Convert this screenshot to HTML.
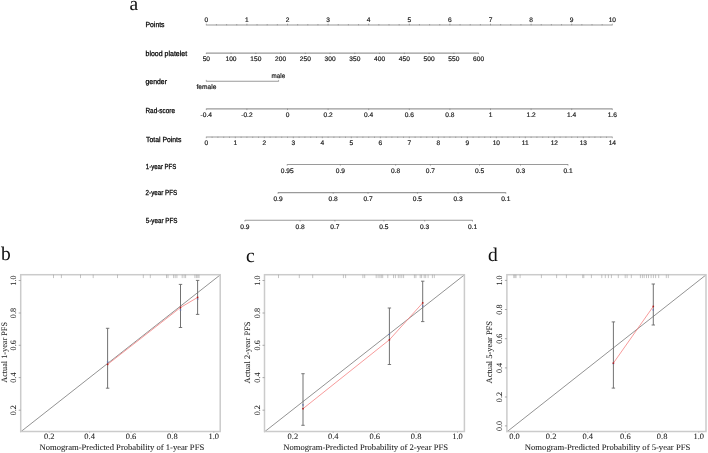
<!DOCTYPE html>
<html><head><meta charset="utf-8"><title>Nomogram and calibration curves</title>
<style>
html,body{margin:0;padding:0;background:#fff;width:708px;height:453px;overflow:hidden}
svg{display:block}
text{font-family:'Liberation Sans', Arial, sans-serif;text-rendering:geometricPrecision}
text.s{font-family:'Liberation Serif', 'Times New Roman', serif}
text.t{stroke:#1a1a1a;stroke-width:0.2px}
text.s{stroke:#222;stroke-width:0.06px}
</style></head>
<body>
<svg width="708" height="453" viewBox="0 0 708 453">
<g>
<rect width="708" height="453" fill="#fff"/>
<text x="129.6" y="10" font-size="19.5" text-anchor="start" fill="#111" class="s">a</text>
<text x="145.5" y="26.7" font-size="7.3" text-anchor="start" fill="#000" textLength="19" lengthAdjust="spacingAndGlyphs" stroke="#000" stroke-width="0.25">Points</text>
<text x="145.5" y="56" font-size="7.3" text-anchor="start" fill="#000" textLength="41.6" lengthAdjust="spacingAndGlyphs" stroke="#000" stroke-width="0.25">blood platelet</text>
<text x="145.5" y="84.3" font-size="7.3" text-anchor="start" fill="#000" textLength="21.5" lengthAdjust="spacingAndGlyphs" stroke="#000" stroke-width="0.25">gender</text>
<text x="145.5" y="113.4" font-size="7.3" text-anchor="start" fill="#000" textLength="29.5" lengthAdjust="spacingAndGlyphs" stroke="#000" stroke-width="0.25">Rad-score</text>
<text x="146.1" y="141.6" font-size="7.3" text-anchor="start" fill="#000" textLength="35.3" lengthAdjust="spacingAndGlyphs" stroke="#000" stroke-width="0.25">Total Points</text>
<text x="145.8" y="168.8" font-size="7.3" text-anchor="start" fill="#000" textLength="30.5" lengthAdjust="spacingAndGlyphs" stroke="#000" stroke-width="0.25">1-year PFS</text>
<text x="145.6" y="194.8" font-size="7.3" text-anchor="start" fill="#000" textLength="31.6" lengthAdjust="spacingAndGlyphs" stroke="#000" stroke-width="0.25">2-year PFS</text>
<text x="145.8" y="222.7" font-size="7.3" text-anchor="start" fill="#000" textLength="31.6" lengthAdjust="spacingAndGlyphs" stroke="#000" stroke-width="0.25">5-year PFS</text>
<line x1="206.3" y1="25" x2="612.3" y2="25" stroke="#9a9a9a" stroke-width="1.1"/>
<line x1="206.3" y1="23.7" x2="206.3" y2="25.3" stroke="#777" stroke-width="0.6"/>
<line x1="216.45" y1="24.1" x2="216.45" y2="25.3" stroke="#777" stroke-width="0.6"/>
<line x1="226.6" y1="24.1" x2="226.6" y2="25.3" stroke="#777" stroke-width="0.6"/>
<line x1="236.75" y1="24.1" x2="236.75" y2="25.3" stroke="#777" stroke-width="0.6"/>
<line x1="246.9" y1="23.7" x2="246.9" y2="25.3" stroke="#777" stroke-width="0.6"/>
<line x1="257.05" y1="24.1" x2="257.05" y2="25.3" stroke="#777" stroke-width="0.6"/>
<line x1="267.2" y1="24.1" x2="267.2" y2="25.3" stroke="#777" stroke-width="0.6"/>
<line x1="277.35" y1="24.1" x2="277.35" y2="25.3" stroke="#777" stroke-width="0.6"/>
<line x1="287.5" y1="23.7" x2="287.5" y2="25.3" stroke="#777" stroke-width="0.6"/>
<line x1="297.65" y1="24.1" x2="297.65" y2="25.3" stroke="#777" stroke-width="0.6"/>
<line x1="307.8" y1="24.1" x2="307.8" y2="25.3" stroke="#777" stroke-width="0.6"/>
<line x1="317.95" y1="24.1" x2="317.95" y2="25.3" stroke="#777" stroke-width="0.6"/>
<line x1="328.1" y1="23.7" x2="328.1" y2="25.3" stroke="#777" stroke-width="0.6"/>
<line x1="338.25" y1="24.1" x2="338.25" y2="25.3" stroke="#777" stroke-width="0.6"/>
<line x1="348.4" y1="24.1" x2="348.4" y2="25.3" stroke="#777" stroke-width="0.6"/>
<line x1="358.55" y1="24.1" x2="358.55" y2="25.3" stroke="#777" stroke-width="0.6"/>
<line x1="368.7" y1="23.7" x2="368.7" y2="25.3" stroke="#777" stroke-width="0.6"/>
<line x1="378.85" y1="24.1" x2="378.85" y2="25.3" stroke="#777" stroke-width="0.6"/>
<line x1="389" y1="24.1" x2="389" y2="25.3" stroke="#777" stroke-width="0.6"/>
<line x1="399.15" y1="24.1" x2="399.15" y2="25.3" stroke="#777" stroke-width="0.6"/>
<line x1="409.3" y1="23.7" x2="409.3" y2="25.3" stroke="#777" stroke-width="0.6"/>
<line x1="419.45" y1="24.1" x2="419.45" y2="25.3" stroke="#777" stroke-width="0.6"/>
<line x1="429.6" y1="24.1" x2="429.6" y2="25.3" stroke="#777" stroke-width="0.6"/>
<line x1="439.75" y1="24.1" x2="439.75" y2="25.3" stroke="#777" stroke-width="0.6"/>
<line x1="449.9" y1="23.7" x2="449.9" y2="25.3" stroke="#777" stroke-width="0.6"/>
<line x1="460.05" y1="24.1" x2="460.05" y2="25.3" stroke="#777" stroke-width="0.6"/>
<line x1="470.2" y1="24.1" x2="470.2" y2="25.3" stroke="#777" stroke-width="0.6"/>
<line x1="480.35" y1="24.1" x2="480.35" y2="25.3" stroke="#777" stroke-width="0.6"/>
<line x1="490.5" y1="23.7" x2="490.5" y2="25.3" stroke="#777" stroke-width="0.6"/>
<line x1="500.65" y1="24.1" x2="500.65" y2="25.3" stroke="#777" stroke-width="0.6"/>
<line x1="510.8" y1="24.1" x2="510.8" y2="25.3" stroke="#777" stroke-width="0.6"/>
<line x1="520.95" y1="24.1" x2="520.95" y2="25.3" stroke="#777" stroke-width="0.6"/>
<line x1="531.1" y1="23.7" x2="531.1" y2="25.3" stroke="#777" stroke-width="0.6"/>
<line x1="541.25" y1="24.1" x2="541.25" y2="25.3" stroke="#777" stroke-width="0.6"/>
<line x1="551.4" y1="24.1" x2="551.4" y2="25.3" stroke="#777" stroke-width="0.6"/>
<line x1="561.55" y1="24.1" x2="561.55" y2="25.3" stroke="#777" stroke-width="0.6"/>
<line x1="571.7" y1="23.7" x2="571.7" y2="25.3" stroke="#777" stroke-width="0.6"/>
<line x1="581.85" y1="24.1" x2="581.85" y2="25.3" stroke="#777" stroke-width="0.6"/>
<line x1="592" y1="24.1" x2="592" y2="25.3" stroke="#777" stroke-width="0.6"/>
<line x1="602.15" y1="24.1" x2="602.15" y2="25.3" stroke="#777" stroke-width="0.6"/>
<line x1="612.3" y1="23.7" x2="612.3" y2="25.3" stroke="#777" stroke-width="0.6"/>
<text x="206.3" y="21.9" font-size="6.6" text-anchor="middle" fill="#1a1a1a" class="t">0</text>
<text x="246.9" y="21.9" font-size="6.6" text-anchor="middle" fill="#1a1a1a" class="t">1</text>
<text x="287.5" y="21.9" font-size="6.6" text-anchor="middle" fill="#1a1a1a" class="t">2</text>
<text x="328.1" y="21.9" font-size="6.6" text-anchor="middle" fill="#1a1a1a" class="t">3</text>
<text x="368.7" y="21.9" font-size="6.6" text-anchor="middle" fill="#1a1a1a" class="t">4</text>
<text x="409.3" y="21.9" font-size="6.6" text-anchor="middle" fill="#1a1a1a" class="t">5</text>
<text x="449.9" y="21.9" font-size="6.6" text-anchor="middle" fill="#1a1a1a" class="t">6</text>
<text x="490.5" y="21.9" font-size="6.6" text-anchor="middle" fill="#1a1a1a" class="t">7</text>
<text x="531.1" y="21.9" font-size="6.6" text-anchor="middle" fill="#1a1a1a" class="t">8</text>
<text x="571.7" y="21.9" font-size="6.6" text-anchor="middle" fill="#1a1a1a" class="t">9</text>
<text x="612.3" y="21.9" font-size="6.6" text-anchor="middle" fill="#1a1a1a" class="t">10</text>
<line x1="206.3" y1="53.1" x2="478.6" y2="53.1" stroke="#9a9a9a" stroke-width="1.1"/>
<line x1="206.3" y1="52.8" x2="206.3" y2="54.1" stroke="#777" stroke-width="0.6"/>
<text x="206.3" y="61" font-size="6.6" text-anchor="middle" fill="#1a1a1a" class="t">50</text>
<line x1="231.05" y1="52.8" x2="231.05" y2="54.1" stroke="#777" stroke-width="0.6"/>
<text x="231.05" y="61" font-size="6.6" text-anchor="middle" fill="#1a1a1a" class="t">100</text>
<line x1="255.81" y1="52.8" x2="255.81" y2="54.1" stroke="#777" stroke-width="0.6"/>
<text x="255.81" y="61" font-size="6.6" text-anchor="middle" fill="#1a1a1a" class="t">150</text>
<line x1="280.56" y1="52.8" x2="280.56" y2="54.1" stroke="#777" stroke-width="0.6"/>
<text x="280.56" y="61" font-size="6.6" text-anchor="middle" fill="#1a1a1a" class="t">200</text>
<line x1="305.32" y1="52.8" x2="305.32" y2="54.1" stroke="#777" stroke-width="0.6"/>
<text x="305.32" y="61" font-size="6.6" text-anchor="middle" fill="#1a1a1a" class="t">250</text>
<line x1="330.07" y1="52.8" x2="330.07" y2="54.1" stroke="#777" stroke-width="0.6"/>
<text x="330.07" y="61" font-size="6.6" text-anchor="middle" fill="#1a1a1a" class="t">300</text>
<line x1="354.83" y1="52.8" x2="354.83" y2="54.1" stroke="#777" stroke-width="0.6"/>
<text x="354.83" y="61" font-size="6.6" text-anchor="middle" fill="#1a1a1a" class="t">350</text>
<line x1="379.58" y1="52.8" x2="379.58" y2="54.1" stroke="#777" stroke-width="0.6"/>
<text x="379.58" y="61" font-size="6.6" text-anchor="middle" fill="#1a1a1a" class="t">400</text>
<line x1="404.34" y1="52.8" x2="404.34" y2="54.1" stroke="#777" stroke-width="0.6"/>
<text x="404.34" y="61" font-size="6.6" text-anchor="middle" fill="#1a1a1a" class="t">450</text>
<line x1="429.09" y1="52.8" x2="429.09" y2="54.1" stroke="#777" stroke-width="0.6"/>
<text x="429.09" y="61" font-size="6.6" text-anchor="middle" fill="#1a1a1a" class="t">500</text>
<line x1="453.85" y1="52.8" x2="453.85" y2="54.1" stroke="#777" stroke-width="0.6"/>
<text x="453.85" y="61" font-size="6.6" text-anchor="middle" fill="#1a1a1a" class="t">550</text>
<line x1="478.6" y1="52.8" x2="478.6" y2="54.1" stroke="#777" stroke-width="0.6"/>
<text x="478.6" y="61" font-size="6.6" text-anchor="middle" fill="#1a1a1a" class="t">600</text>
<line x1="206.3" y1="81.2" x2="278.6" y2="81.2" stroke="#9a9a9a" stroke-width="1.1"/>
<line x1="206.3" y1="79.9" x2="206.3" y2="81.5" stroke="#777" stroke-width="0.6"/>
<line x1="278.6" y1="79.9" x2="278.6" y2="81.5" stroke="#777" stroke-width="0.6"/>
<text x="278.4" y="78.4" font-size="6.6" text-anchor="middle" fill="#1a1a1a" class="t" textLength="13.6" lengthAdjust="spacingAndGlyphs">male</text>
<text x="206.4" y="89.2" font-size="6.6" text-anchor="middle" fill="#1a1a1a" class="t" textLength="19.8" lengthAdjust="spacingAndGlyphs">female</text>
<line x1="206.3" y1="108.9" x2="612.3" y2="108.9" stroke="#9a9a9a" stroke-width="1.4000000000000001"/>
<line x1="206.3" y1="108.6" x2="206.3" y2="110.1" stroke="#777" stroke-width="0.6"/>
<text x="206.3" y="117" font-size="6.6" text-anchor="middle" fill="#1a1a1a" class="t">-0.4</text>
<line x1="246.9" y1="108.6" x2="246.9" y2="110.1" stroke="#777" stroke-width="0.6"/>
<text x="246.9" y="117" font-size="6.6" text-anchor="middle" fill="#1a1a1a" class="t">-0.2</text>
<line x1="287.5" y1="108.6" x2="287.5" y2="110.1" stroke="#777" stroke-width="0.6"/>
<text x="287.5" y="117" font-size="6.6" text-anchor="middle" fill="#1a1a1a" class="t">0</text>
<line x1="328.1" y1="108.6" x2="328.1" y2="110.1" stroke="#777" stroke-width="0.6"/>
<text x="328.1" y="117" font-size="6.6" text-anchor="middle" fill="#1a1a1a" class="t">0.2</text>
<line x1="368.7" y1="108.6" x2="368.7" y2="110.1" stroke="#777" stroke-width="0.6"/>
<text x="368.7" y="117" font-size="6.6" text-anchor="middle" fill="#1a1a1a" class="t">0.4</text>
<line x1="409.3" y1="108.6" x2="409.3" y2="110.1" stroke="#777" stroke-width="0.6"/>
<text x="409.3" y="117" font-size="6.6" text-anchor="middle" fill="#1a1a1a" class="t">0.6</text>
<line x1="449.9" y1="108.6" x2="449.9" y2="110.1" stroke="#777" stroke-width="0.6"/>
<text x="449.9" y="117" font-size="6.6" text-anchor="middle" fill="#1a1a1a" class="t">0.8</text>
<line x1="490.5" y1="108.6" x2="490.5" y2="110.1" stroke="#777" stroke-width="0.6"/>
<text x="490.5" y="117" font-size="6.6" text-anchor="middle" fill="#1a1a1a" class="t">1</text>
<line x1="531.1" y1="108.6" x2="531.1" y2="110.1" stroke="#777" stroke-width="0.6"/>
<text x="531.1" y="117" font-size="6.6" text-anchor="middle" fill="#1a1a1a" class="t">1.2</text>
<line x1="571.7" y1="108.6" x2="571.7" y2="110.1" stroke="#777" stroke-width="0.6"/>
<text x="571.7" y="117" font-size="6.6" text-anchor="middle" fill="#1a1a1a" class="t">1.4</text>
<line x1="612.3" y1="108.6" x2="612.3" y2="110.1" stroke="#777" stroke-width="0.6"/>
<text x="612.3" y="117" font-size="6.6" text-anchor="middle" fill="#1a1a1a" class="t">1.6</text>
<line x1="206.3" y1="137" x2="612.3" y2="137" stroke="#9a9a9a" stroke-width="1.1"/>
<line x1="206.3" y1="136.7" x2="206.3" y2="138.2" stroke="#777" stroke-width="0.6"/>
<line x1="212.1" y1="136.7" x2="212.1" y2="137.8" stroke="#777" stroke-width="0.6"/>
<line x1="217.9" y1="136.7" x2="217.9" y2="137.8" stroke="#777" stroke-width="0.6"/>
<line x1="223.7" y1="136.7" x2="223.7" y2="137.8" stroke="#777" stroke-width="0.6"/>
<line x1="229.5" y1="136.7" x2="229.5" y2="137.8" stroke="#777" stroke-width="0.6"/>
<line x1="235.3" y1="136.7" x2="235.3" y2="138.2" stroke="#777" stroke-width="0.6"/>
<line x1="241.1" y1="136.7" x2="241.1" y2="137.8" stroke="#777" stroke-width="0.6"/>
<line x1="246.9" y1="136.7" x2="246.9" y2="137.8" stroke="#777" stroke-width="0.6"/>
<line x1="252.7" y1="136.7" x2="252.7" y2="137.8" stroke="#777" stroke-width="0.6"/>
<line x1="258.5" y1="136.7" x2="258.5" y2="137.8" stroke="#777" stroke-width="0.6"/>
<line x1="264.3" y1="136.7" x2="264.3" y2="138.2" stroke="#777" stroke-width="0.6"/>
<line x1="270.1" y1="136.7" x2="270.1" y2="137.8" stroke="#777" stroke-width="0.6"/>
<line x1="275.9" y1="136.7" x2="275.9" y2="137.8" stroke="#777" stroke-width="0.6"/>
<line x1="281.7" y1="136.7" x2="281.7" y2="137.8" stroke="#777" stroke-width="0.6"/>
<line x1="287.5" y1="136.7" x2="287.5" y2="137.8" stroke="#777" stroke-width="0.6"/>
<line x1="293.3" y1="136.7" x2="293.3" y2="138.2" stroke="#777" stroke-width="0.6"/>
<line x1="299.1" y1="136.7" x2="299.1" y2="137.8" stroke="#777" stroke-width="0.6"/>
<line x1="304.9" y1="136.7" x2="304.9" y2="137.8" stroke="#777" stroke-width="0.6"/>
<line x1="310.7" y1="136.7" x2="310.7" y2="137.8" stroke="#777" stroke-width="0.6"/>
<line x1="316.5" y1="136.7" x2="316.5" y2="137.8" stroke="#777" stroke-width="0.6"/>
<line x1="322.3" y1="136.7" x2="322.3" y2="138.2" stroke="#777" stroke-width="0.6"/>
<line x1="328.1" y1="136.7" x2="328.1" y2="137.8" stroke="#777" stroke-width="0.6"/>
<line x1="333.9" y1="136.7" x2="333.9" y2="137.8" stroke="#777" stroke-width="0.6"/>
<line x1="339.7" y1="136.7" x2="339.7" y2="137.8" stroke="#777" stroke-width="0.6"/>
<line x1="345.5" y1="136.7" x2="345.5" y2="137.8" stroke="#777" stroke-width="0.6"/>
<line x1="351.3" y1="136.7" x2="351.3" y2="138.2" stroke="#777" stroke-width="0.6"/>
<line x1="357.1" y1="136.7" x2="357.1" y2="137.8" stroke="#777" stroke-width="0.6"/>
<line x1="362.9" y1="136.7" x2="362.9" y2="137.8" stroke="#777" stroke-width="0.6"/>
<line x1="368.7" y1="136.7" x2="368.7" y2="137.8" stroke="#777" stroke-width="0.6"/>
<line x1="374.5" y1="136.7" x2="374.5" y2="137.8" stroke="#777" stroke-width="0.6"/>
<line x1="380.3" y1="136.7" x2="380.3" y2="138.2" stroke="#777" stroke-width="0.6"/>
<line x1="386.1" y1="136.7" x2="386.1" y2="137.8" stroke="#777" stroke-width="0.6"/>
<line x1="391.9" y1="136.7" x2="391.9" y2="137.8" stroke="#777" stroke-width="0.6"/>
<line x1="397.7" y1="136.7" x2="397.7" y2="137.8" stroke="#777" stroke-width="0.6"/>
<line x1="403.5" y1="136.7" x2="403.5" y2="137.8" stroke="#777" stroke-width="0.6"/>
<line x1="409.3" y1="136.7" x2="409.3" y2="138.2" stroke="#777" stroke-width="0.6"/>
<line x1="415.1" y1="136.7" x2="415.1" y2="137.8" stroke="#777" stroke-width="0.6"/>
<line x1="420.9" y1="136.7" x2="420.9" y2="137.8" stroke="#777" stroke-width="0.6"/>
<line x1="426.7" y1="136.7" x2="426.7" y2="137.8" stroke="#777" stroke-width="0.6"/>
<line x1="432.5" y1="136.7" x2="432.5" y2="137.8" stroke="#777" stroke-width="0.6"/>
<line x1="438.3" y1="136.7" x2="438.3" y2="138.2" stroke="#777" stroke-width="0.6"/>
<line x1="444.1" y1="136.7" x2="444.1" y2="137.8" stroke="#777" stroke-width="0.6"/>
<line x1="449.9" y1="136.7" x2="449.9" y2="137.8" stroke="#777" stroke-width="0.6"/>
<line x1="455.7" y1="136.7" x2="455.7" y2="137.8" stroke="#777" stroke-width="0.6"/>
<line x1="461.5" y1="136.7" x2="461.5" y2="137.8" stroke="#777" stroke-width="0.6"/>
<line x1="467.3" y1="136.7" x2="467.3" y2="138.2" stroke="#777" stroke-width="0.6"/>
<line x1="473.1" y1="136.7" x2="473.1" y2="137.8" stroke="#777" stroke-width="0.6"/>
<line x1="478.9" y1="136.7" x2="478.9" y2="137.8" stroke="#777" stroke-width="0.6"/>
<line x1="484.7" y1="136.7" x2="484.7" y2="137.8" stroke="#777" stroke-width="0.6"/>
<line x1="490.5" y1="136.7" x2="490.5" y2="137.8" stroke="#777" stroke-width="0.6"/>
<line x1="496.3" y1="136.7" x2="496.3" y2="138.2" stroke="#777" stroke-width="0.6"/>
<line x1="502.1" y1="136.7" x2="502.1" y2="137.8" stroke="#777" stroke-width="0.6"/>
<line x1="507.9" y1="136.7" x2="507.9" y2="137.8" stroke="#777" stroke-width="0.6"/>
<line x1="513.7" y1="136.7" x2="513.7" y2="137.8" stroke="#777" stroke-width="0.6"/>
<line x1="519.5" y1="136.7" x2="519.5" y2="137.8" stroke="#777" stroke-width="0.6"/>
<line x1="525.3" y1="136.7" x2="525.3" y2="138.2" stroke="#777" stroke-width="0.6"/>
<line x1="531.1" y1="136.7" x2="531.1" y2="137.8" stroke="#777" stroke-width="0.6"/>
<line x1="536.9" y1="136.7" x2="536.9" y2="137.8" stroke="#777" stroke-width="0.6"/>
<line x1="542.7" y1="136.7" x2="542.7" y2="137.8" stroke="#777" stroke-width="0.6"/>
<line x1="548.5" y1="136.7" x2="548.5" y2="137.8" stroke="#777" stroke-width="0.6"/>
<line x1="554.3" y1="136.7" x2="554.3" y2="138.2" stroke="#777" stroke-width="0.6"/>
<line x1="560.1" y1="136.7" x2="560.1" y2="137.8" stroke="#777" stroke-width="0.6"/>
<line x1="565.9" y1="136.7" x2="565.9" y2="137.8" stroke="#777" stroke-width="0.6"/>
<line x1="571.7" y1="136.7" x2="571.7" y2="137.8" stroke="#777" stroke-width="0.6"/>
<line x1="577.5" y1="136.7" x2="577.5" y2="137.8" stroke="#777" stroke-width="0.6"/>
<line x1="583.3" y1="136.7" x2="583.3" y2="138.2" stroke="#777" stroke-width="0.6"/>
<line x1="589.1" y1="136.7" x2="589.1" y2="137.8" stroke="#777" stroke-width="0.6"/>
<line x1="594.9" y1="136.7" x2="594.9" y2="137.8" stroke="#777" stroke-width="0.6"/>
<line x1="600.7" y1="136.7" x2="600.7" y2="137.8" stroke="#777" stroke-width="0.6"/>
<line x1="606.5" y1="136.7" x2="606.5" y2="137.8" stroke="#777" stroke-width="0.6"/>
<line x1="612.3" y1="136.7" x2="612.3" y2="138.2" stroke="#777" stroke-width="0.6"/>
<text x="206.3" y="144.9" font-size="6.6" text-anchor="middle" fill="#1a1a1a" class="t">0</text>
<text x="235.3" y="144.9" font-size="6.6" text-anchor="middle" fill="#1a1a1a" class="t">1</text>
<text x="264.3" y="144.9" font-size="6.6" text-anchor="middle" fill="#1a1a1a" class="t">2</text>
<text x="293.3" y="144.9" font-size="6.6" text-anchor="middle" fill="#1a1a1a" class="t">3</text>
<text x="322.3" y="144.9" font-size="6.6" text-anchor="middle" fill="#1a1a1a" class="t">4</text>
<text x="351.3" y="144.9" font-size="6.6" text-anchor="middle" fill="#1a1a1a" class="t">5</text>
<text x="380.3" y="144.9" font-size="6.6" text-anchor="middle" fill="#1a1a1a" class="t">6</text>
<text x="409.3" y="144.9" font-size="6.6" text-anchor="middle" fill="#1a1a1a" class="t">7</text>
<text x="438.3" y="144.9" font-size="6.6" text-anchor="middle" fill="#1a1a1a" class="t">8</text>
<text x="467.3" y="144.9" font-size="6.6" text-anchor="middle" fill="#1a1a1a" class="t">9</text>
<text x="496.3" y="144.9" font-size="6.6" text-anchor="middle" fill="#1a1a1a" class="t">10</text>
<text x="525.3" y="144.9" font-size="6.6" text-anchor="middle" fill="#1a1a1a" class="t">11</text>
<text x="554.3" y="144.9" font-size="6.6" text-anchor="middle" fill="#1a1a1a" class="t">12</text>
<text x="583.3" y="144.9" font-size="6.6" text-anchor="middle" fill="#1a1a1a" class="t">13</text>
<text x="612.3" y="144.9" font-size="6.6" text-anchor="middle" fill="#1a1a1a" class="t">14</text>
<line x1="287.2" y1="164.5" x2="568" y2="164.5" stroke="#9a9a9a" stroke-width="1.1"/>
<line x1="287.2" y1="164.2" x2="287.2" y2="165.7" stroke="#777" stroke-width="0.6"/>
<text x="287.2" y="172.7" font-size="6.6" text-anchor="middle" fill="#1a1a1a" class="t">0.95</text>
<line x1="340.35" y1="164.2" x2="340.35" y2="165.7" stroke="#777" stroke-width="0.6"/>
<text x="340.35" y="172.7" font-size="6.6" text-anchor="middle" fill="#1a1a1a" class="t">0.9</text>
<line x1="395.6" y1="164.2" x2="395.6" y2="165.7" stroke="#777" stroke-width="0.6"/>
<text x="395.6" y="172.7" font-size="6.6" text-anchor="middle" fill="#1a1a1a" class="t">0.8</text>
<line x1="430.4" y1="164.2" x2="430.4" y2="165.7" stroke="#777" stroke-width="0.6"/>
<text x="430.4" y="172.7" font-size="6.6" text-anchor="middle" fill="#1a1a1a" class="t">0.7</text>
<line x1="479.5" y1="164.2" x2="479.5" y2="165.7" stroke="#777" stroke-width="0.6"/>
<text x="479.5" y="172.7" font-size="6.6" text-anchor="middle" fill="#1a1a1a" class="t">0.5</text>
<line x1="520.5" y1="164.2" x2="520.5" y2="165.7" stroke="#777" stroke-width="0.6"/>
<text x="520.5" y="172.7" font-size="6.6" text-anchor="middle" fill="#1a1a1a" class="t">0.3</text>
<line x1="568" y1="164.2" x2="568" y2="165.7" stroke="#777" stroke-width="0.6"/>
<text x="568" y="172.7" font-size="6.6" text-anchor="middle" fill="#1a1a1a" class="t">0.1</text>
<line x1="278" y1="192.6" x2="505.8" y2="192.6" stroke="#9a9a9a" stroke-width="1.1"/>
<line x1="278" y1="192.3" x2="278" y2="193.8" stroke="#777" stroke-width="0.6"/>
<text x="278" y="200.8" font-size="6.6" text-anchor="middle" fill="#1a1a1a" class="t">0.9</text>
<line x1="333.2" y1="192.3" x2="333.2" y2="193.8" stroke="#777" stroke-width="0.6"/>
<text x="333.2" y="200.8" font-size="6.6" text-anchor="middle" fill="#1a1a1a" class="t">0.8</text>
<line x1="368" y1="192.3" x2="368" y2="193.8" stroke="#777" stroke-width="0.6"/>
<text x="368" y="200.8" font-size="6.6" text-anchor="middle" fill="#1a1a1a" class="t">0.7</text>
<line x1="417.4" y1="192.3" x2="417.4" y2="193.8" stroke="#777" stroke-width="0.6"/>
<text x="417.4" y="200.8" font-size="6.6" text-anchor="middle" fill="#1a1a1a" class="t">0.5</text>
<line x1="458" y1="192.3" x2="458" y2="193.8" stroke="#777" stroke-width="0.6"/>
<text x="458" y="200.8" font-size="6.6" text-anchor="middle" fill="#1a1a1a" class="t">0.3</text>
<line x1="505.8" y1="192.3" x2="505.8" y2="193.8" stroke="#777" stroke-width="0.6"/>
<text x="505.8" y="200.8" font-size="6.6" text-anchor="middle" fill="#1a1a1a" class="t">0.1</text>
<line x1="244.9" y1="220.3" x2="472.5" y2="220.3" stroke="#9a9a9a" stroke-width="1.1"/>
<line x1="244.9" y1="220" x2="244.9" y2="221.5" stroke="#777" stroke-width="0.6"/>
<text x="244.9" y="228.6" font-size="6.6" text-anchor="middle" fill="#1a1a1a" class="t">0.9</text>
<line x1="300.1" y1="220" x2="300.1" y2="221.5" stroke="#777" stroke-width="0.6"/>
<text x="300.1" y="228.6" font-size="6.6" text-anchor="middle" fill="#1a1a1a" class="t">0.8</text>
<line x1="334.9" y1="220" x2="334.9" y2="221.5" stroke="#777" stroke-width="0.6"/>
<text x="334.9" y="228.6" font-size="6.6" text-anchor="middle" fill="#1a1a1a" class="t">0.7</text>
<line x1="383.9" y1="220" x2="383.9" y2="221.5" stroke="#777" stroke-width="0.6"/>
<text x="383.9" y="228.6" font-size="6.6" text-anchor="middle" fill="#1a1a1a" class="t">0.5</text>
<line x1="424.7" y1="220" x2="424.7" y2="221.5" stroke="#777" stroke-width="0.6"/>
<text x="424.7" y="228.6" font-size="6.6" text-anchor="middle" fill="#1a1a1a" class="t">0.3</text>
<line x1="472.5" y1="220" x2="472.5" y2="221.5" stroke="#777" stroke-width="0.6"/>
<text x="472.5" y="228.6" font-size="6.6" text-anchor="middle" fill="#1a1a1a" class="t">0.1</text>
<text x="1.1" y="260.3" font-size="19.5" text-anchor="start" fill="#111" class="s">b</text>
<line x1="20.7" y1="431.8" x2="220.2" y2="274.9" stroke="#262626" stroke-width="0.5"/>
<rect x="20.7" y="274.7" width="199.5" height="156.8" fill="none" stroke="#cbcbcb" stroke-width="1.5"/>
<line x1="18.7" y1="410.2" x2="20.7" y2="410.2" stroke="#888" stroke-width="0.7"/>
<text x="15.6" y="410.2" font-size="8.2" text-anchor="middle" fill="#222" class="s" transform="rotate(-90 15.6 410.2)">0.2</text>
<line x1="18.7" y1="377.6" x2="20.7" y2="377.6" stroke="#888" stroke-width="0.7"/>
<text x="15.6" y="377.6" font-size="8.2" text-anchor="middle" fill="#222" class="s" transform="rotate(-90 15.6 377.6)">0.4</text>
<line x1="18.7" y1="345.3" x2="20.7" y2="345.3" stroke="#888" stroke-width="0.7"/>
<text x="15.6" y="345.3" font-size="8.2" text-anchor="middle" fill="#222" class="s" transform="rotate(-90 15.6 345.3)">0.6</text>
<line x1="18.7" y1="313" x2="20.7" y2="313" stroke="#888" stroke-width="0.7"/>
<text x="15.6" y="313" font-size="8.2" text-anchor="middle" fill="#222" class="s" transform="rotate(-90 15.6 313)">0.8</text>
<line x1="18.7" y1="280.5" x2="20.7" y2="280.5" stroke="#888" stroke-width="0.7"/>
<text x="15.6" y="280.5" font-size="8.2" text-anchor="middle" fill="#222" class="s" transform="rotate(-90 15.6 280.5)">1.0</text>
<line x1="49.2" y1="431.5" x2="49.2" y2="433" stroke="#aaa" stroke-width="0.6"/>
<text x="49.2" y="439.4" font-size="8.2" text-anchor="middle" fill="#222" class="s" textLength="10.6" lengthAdjust="spacingAndGlyphs">0.2</text>
<line x1="89.6" y1="431.5" x2="89.6" y2="433" stroke="#aaa" stroke-width="0.6"/>
<text x="89.6" y="439.4" font-size="8.2" text-anchor="middle" fill="#222" class="s" textLength="10.6" lengthAdjust="spacingAndGlyphs">0.4</text>
<line x1="131" y1="431.5" x2="131" y2="433" stroke="#aaa" stroke-width="0.6"/>
<text x="131" y="439.4" font-size="8.2" text-anchor="middle" fill="#222" class="s" textLength="10.6" lengthAdjust="spacingAndGlyphs">0.6</text>
<line x1="172.4" y1="431.5" x2="172.4" y2="433" stroke="#aaa" stroke-width="0.6"/>
<text x="172.4" y="439.4" font-size="8.2" text-anchor="middle" fill="#222" class="s" textLength="10.6" lengthAdjust="spacingAndGlyphs">0.8</text>
<line x1="213.8" y1="431.5" x2="213.8" y2="433" stroke="#aaa" stroke-width="0.6"/>
<text x="213.8" y="439.4" font-size="8.2" text-anchor="middle" fill="#222" class="s" textLength="10.6" lengthAdjust="spacingAndGlyphs">1.0</text>
<text x="39.5" y="450.1" font-size="8.5" text-anchor="start" fill="#222" class="s" textLength="164.7" lengthAdjust="spacingAndGlyphs">Nomogram-Predicted Probability of 1-year PFS</text>
<text x="7" y="352.4" font-size="8.3" text-anchor="middle" fill="#222" class="s" textLength="60.8" lengthAdjust="spacingAndGlyphs" transform="rotate(-90 7 352.4)">Actual 1-year PFS</text>
<line x1="53.5" y1="274.7" x2="53.5" y2="278.1" stroke="#8a8a8a" stroke-width="0.5"/>
<line x1="61.4" y1="274.7" x2="61.4" y2="278.1" stroke="#8a8a8a" stroke-width="0.5"/>
<line x1="80.5" y1="274.7" x2="80.5" y2="278.1" stroke="#8a8a8a" stroke-width="0.5"/>
<line x1="93.2" y1="274.7" x2="93.2" y2="278.1" stroke="#8a8a8a" stroke-width="0.5"/>
<line x1="117.5" y1="274.7" x2="117.5" y2="278.1" stroke="#8a8a8a" stroke-width="0.5"/>
<line x1="143.3" y1="274.7" x2="143.3" y2="278.1" stroke="#8a8a8a" stroke-width="0.5"/>
<line x1="150.3" y1="274.7" x2="150.3" y2="278.1" stroke="#8a8a8a" stroke-width="0.5"/>
<line x1="166.5" y1="274.7" x2="166.5" y2="278.1" stroke="#8a8a8a" stroke-width="0.5"/>
<line x1="168" y1="274.7" x2="168" y2="278.1" stroke="#8a8a8a" stroke-width="0.5"/>
<line x1="173.6" y1="274.7" x2="173.6" y2="278.1" stroke="#8a8a8a" stroke-width="0.5"/>
<line x1="175.2" y1="274.7" x2="175.2" y2="278.1" stroke="#8a8a8a" stroke-width="0.5"/>
<line x1="176.9" y1="274.7" x2="176.9" y2="278.1" stroke="#8a8a8a" stroke-width="0.5"/>
<line x1="182.2" y1="274.7" x2="182.2" y2="278.1" stroke="#8a8a8a" stroke-width="0.5"/>
<line x1="184.1" y1="274.7" x2="184.1" y2="278.1" stroke="#8a8a8a" stroke-width="0.5"/>
<line x1="185.6" y1="274.7" x2="185.6" y2="278.1" stroke="#8a8a8a" stroke-width="0.5"/>
<line x1="194.9" y1="274.7" x2="194.9" y2="278.1" stroke="#8a8a8a" stroke-width="0.5"/>
<line x1="196.4" y1="274.7" x2="196.4" y2="278.1" stroke="#8a8a8a" stroke-width="0.5"/>
<line x1="197.8" y1="274.7" x2="197.8" y2="278.1" stroke="#8a8a8a" stroke-width="0.5"/>
<line x1="199" y1="274.7" x2="199" y2="278.1" stroke="#8a8a8a" stroke-width="0.5"/>
<line x1="107.6" y1="328.3" x2="107.6" y2="388.2" stroke="#6a6a6a" stroke-width="0.95"/>
<line x1="105.9" y1="328.3" x2="109.3" y2="328.3" stroke="#6a6a6a" stroke-width="0.9"/>
<line x1="105.9" y1="388.2" x2="109.3" y2="388.2" stroke="#6a6a6a" stroke-width="0.9"/>
<line x1="180.5" y1="284.4" x2="180.5" y2="327.5" stroke="#6a6a6a" stroke-width="0.95"/>
<line x1="178.8" y1="284.4" x2="182.2" y2="284.4" stroke="#6a6a6a" stroke-width="0.9"/>
<line x1="178.8" y1="327.5" x2="182.2" y2="327.5" stroke="#6a6a6a" stroke-width="0.9"/>
<line x1="197.6" y1="280.4" x2="197.6" y2="314.4" stroke="#6a6a6a" stroke-width="0.95"/>
<line x1="195.9" y1="280.4" x2="199.3" y2="280.4" stroke="#6a6a6a" stroke-width="0.9"/>
<line x1="195.9" y1="314.4" x2="199.3" y2="314.4" stroke="#6a6a6a" stroke-width="0.9"/>
<polyline points="107.6,364.4 180.5,307.5 197.6,297.4" fill="none" stroke="#f47a7a" stroke-width="0.75"/>
<rect x="106.9" y="361.2" width="1.4" height="1.4" fill="#6070b0"/>
<rect x="106.85" y="363.65" width="1.5" height="1.5" fill="#b01818"/>
<rect x="179.8" y="309.3" width="1.4" height="1.4" fill="#6070b0"/>
<rect x="179.75" y="306.75" width="1.5" height="1.5" fill="#b01818"/>
<rect x="196.9" y="298.4" width="1.4" height="1.4" fill="#6070b0"/>
<rect x="196.85" y="296.65" width="1.5" height="1.5" fill="#b01818"/>
<text x="246" y="261.5" font-size="19.5" text-anchor="start" fill="#111" class="s">c</text>
<line x1="264.5" y1="431.8" x2="464.4" y2="274.9" stroke="#262626" stroke-width="0.5"/>
<rect x="264.5" y="274.7" width="199.9" height="156.8" fill="none" stroke="#cbcbcb" stroke-width="1.5"/>
<line x1="262.5" y1="410.2" x2="264.5" y2="410.2" stroke="#888" stroke-width="0.7"/>
<text x="260" y="410.2" font-size="8.2" text-anchor="middle" fill="#222" class="s" transform="rotate(-90 260 410.2)">0.2</text>
<line x1="262.5" y1="377.6" x2="264.5" y2="377.6" stroke="#888" stroke-width="0.7"/>
<text x="260" y="377.6" font-size="8.2" text-anchor="middle" fill="#222" class="s" transform="rotate(-90 260 377.6)">0.4</text>
<line x1="262.5" y1="345.3" x2="264.5" y2="345.3" stroke="#888" stroke-width="0.7"/>
<text x="260" y="345.3" font-size="8.2" text-anchor="middle" fill="#222" class="s" transform="rotate(-90 260 345.3)">0.6</text>
<line x1="262.5" y1="313" x2="264.5" y2="313" stroke="#888" stroke-width="0.7"/>
<text x="260" y="313" font-size="8.2" text-anchor="middle" fill="#222" class="s" transform="rotate(-90 260 313)">0.8</text>
<line x1="262.5" y1="280.5" x2="264.5" y2="280.5" stroke="#888" stroke-width="0.7"/>
<text x="260" y="280.5" font-size="8.2" text-anchor="middle" fill="#222" class="s" transform="rotate(-90 260 280.5)">1.0</text>
<line x1="292.9" y1="431.5" x2="292.9" y2="433" stroke="#aaa" stroke-width="0.6"/>
<text x="292.9" y="439.4" font-size="8.2" text-anchor="middle" fill="#222" class="s" textLength="10.6" lengthAdjust="spacingAndGlyphs">0.2</text>
<line x1="333.2" y1="431.5" x2="333.2" y2="433" stroke="#aaa" stroke-width="0.6"/>
<text x="333.2" y="439.4" font-size="8.2" text-anchor="middle" fill="#222" class="s" textLength="10.6" lengthAdjust="spacingAndGlyphs">0.4</text>
<line x1="374.7" y1="431.5" x2="374.7" y2="433" stroke="#aaa" stroke-width="0.6"/>
<text x="374.7" y="439.4" font-size="8.2" text-anchor="middle" fill="#222" class="s" textLength="10.6" lengthAdjust="spacingAndGlyphs">0.6</text>
<line x1="416.1" y1="431.5" x2="416.1" y2="433" stroke="#aaa" stroke-width="0.6"/>
<text x="416.1" y="439.4" font-size="8.2" text-anchor="middle" fill="#222" class="s" textLength="10.6" lengthAdjust="spacingAndGlyphs">0.8</text>
<line x1="457.5" y1="431.5" x2="457.5" y2="433" stroke="#aaa" stroke-width="0.6"/>
<text x="457.5" y="439.4" font-size="8.2" text-anchor="middle" fill="#222" class="s" textLength="10.6" lengthAdjust="spacingAndGlyphs">1.0</text>
<text x="283.3" y="450.1" font-size="8.5" text-anchor="start" fill="#222" class="s" textLength="164.7" lengthAdjust="spacingAndGlyphs">Nomogram-Predicted Probability of 2-year PFS</text>
<text x="250.2" y="352.5" font-size="8.3" text-anchor="middle" fill="#222" class="s" textLength="61.8" lengthAdjust="spacingAndGlyphs" transform="rotate(-90 250.2 352.5)">Actual 2-year PFS</text>
<line x1="278.5" y1="274.7" x2="278.5" y2="278.1" stroke="#8a8a8a" stroke-width="0.5"/>
<line x1="299.3" y1="274.7" x2="299.3" y2="278.1" stroke="#8a8a8a" stroke-width="0.5"/>
<line x1="312.7" y1="274.7" x2="312.7" y2="278.1" stroke="#8a8a8a" stroke-width="0.5"/>
<line x1="343.4" y1="274.7" x2="343.4" y2="278.1" stroke="#8a8a8a" stroke-width="0.5"/>
<line x1="345.6" y1="274.7" x2="345.6" y2="278.1" stroke="#8a8a8a" stroke-width="0.5"/>
<line x1="362.9" y1="274.7" x2="362.9" y2="278.1" stroke="#8a8a8a" stroke-width="0.5"/>
<line x1="364.7" y1="274.7" x2="364.7" y2="278.1" stroke="#8a8a8a" stroke-width="0.5"/>
<line x1="376.2" y1="274.7" x2="376.2" y2="278.1" stroke="#8a8a8a" stroke-width="0.5"/>
<line x1="378.1" y1="274.7" x2="378.1" y2="278.1" stroke="#8a8a8a" stroke-width="0.5"/>
<line x1="379.9" y1="274.7" x2="379.9" y2="278.1" stroke="#8a8a8a" stroke-width="0.5"/>
<line x1="381.3" y1="274.7" x2="381.3" y2="278.1" stroke="#8a8a8a" stroke-width="0.5"/>
<line x1="382.7" y1="274.7" x2="382.7" y2="278.1" stroke="#8a8a8a" stroke-width="0.5"/>
<line x1="387.8" y1="274.7" x2="387.8" y2="278.1" stroke="#8a8a8a" stroke-width="0.5"/>
<line x1="393.5" y1="274.7" x2="393.5" y2="278.1" stroke="#8a8a8a" stroke-width="0.5"/>
<line x1="395.4" y1="274.7" x2="395.4" y2="278.1" stroke="#8a8a8a" stroke-width="0.5"/>
<line x1="398.3" y1="274.7" x2="398.3" y2="278.1" stroke="#8a8a8a" stroke-width="0.5"/>
<line x1="400" y1="274.7" x2="400" y2="278.1" stroke="#8a8a8a" stroke-width="0.5"/>
<line x1="401.8" y1="274.7" x2="401.8" y2="278.1" stroke="#8a8a8a" stroke-width="0.5"/>
<line x1="403.6" y1="274.7" x2="403.6" y2="278.1" stroke="#8a8a8a" stroke-width="0.5"/>
<line x1="414.4" y1="274.7" x2="414.4" y2="278.1" stroke="#8a8a8a" stroke-width="0.5"/>
<line x1="415.9" y1="274.7" x2="415.9" y2="278.1" stroke="#8a8a8a" stroke-width="0.5"/>
<line x1="420.2" y1="274.7" x2="420.2" y2="278.1" stroke="#8a8a8a" stroke-width="0.5"/>
<line x1="421.6" y1="274.7" x2="421.6" y2="278.1" stroke="#8a8a8a" stroke-width="0.5"/>
<line x1="424.2" y1="274.7" x2="424.2" y2="278.1" stroke="#8a8a8a" stroke-width="0.5"/>
<line x1="425.7" y1="274.7" x2="425.7" y2="278.1" stroke="#8a8a8a" stroke-width="0.5"/>
<line x1="428.1" y1="274.7" x2="428.1" y2="278.1" stroke="#8a8a8a" stroke-width="0.5"/>
<line x1="432.4" y1="274.7" x2="432.4" y2="278.1" stroke="#8a8a8a" stroke-width="0.5"/>
<line x1="434.3" y1="274.7" x2="434.3" y2="278.1" stroke="#8a8a8a" stroke-width="0.5"/>
<line x1="303" y1="373.7" x2="303" y2="425.3" stroke="#6a6a6a" stroke-width="0.95"/>
<line x1="301.3" y1="373.7" x2="304.7" y2="373.7" stroke="#6a6a6a" stroke-width="0.9"/>
<line x1="301.3" y1="425.3" x2="304.7" y2="425.3" stroke="#6a6a6a" stroke-width="0.9"/>
<line x1="389.4" y1="308" x2="389.4" y2="364.5" stroke="#6a6a6a" stroke-width="0.95"/>
<line x1="387.7" y1="308" x2="391.1" y2="308" stroke="#6a6a6a" stroke-width="0.9"/>
<line x1="387.7" y1="364.5" x2="391.1" y2="364.5" stroke="#6a6a6a" stroke-width="0.9"/>
<line x1="422.7" y1="281.2" x2="422.7" y2="321.6" stroke="#6a6a6a" stroke-width="0.95"/>
<line x1="421" y1="281.2" x2="424.4" y2="281.2" stroke="#6a6a6a" stroke-width="0.9"/>
<line x1="421" y1="321.6" x2="424.4" y2="321.6" stroke="#6a6a6a" stroke-width="0.9"/>
<polyline points="303,408.7 389.4,339.8 422.7,302.9" fill="none" stroke="#f47a7a" stroke-width="0.75"/>
<rect x="302.3" y="404.2" width="1.4" height="1.4" fill="#6070b0"/>
<rect x="302.25" y="407.95" width="1.5" height="1.5" fill="#b01818"/>
<rect x="388.7" y="333.8" width="1.4" height="1.4" fill="#6070b0"/>
<rect x="388.65" y="339.05" width="1.5" height="1.5" fill="#b01818"/>
<rect x="422" y="305.3" width="1.4" height="1.4" fill="#6070b0"/>
<rect x="421.95" y="302.15" width="1.5" height="1.5" fill="#b01818"/>
<text x="487.9" y="261.2" font-size="19.5" text-anchor="start" fill="#111" class="s">d</text>
<line x1="506.9" y1="431.8" x2="706" y2="274.9" stroke="#262626" stroke-width="0.5"/>
<rect x="506.9" y="274.7" width="199.1" height="156.8" fill="none" stroke="#cbcbcb" stroke-width="1.5"/>
<line x1="504.9" y1="425.9" x2="506.9" y2="425.9" stroke="#888" stroke-width="0.7"/>
<text x="502" y="425.9" font-size="8.2" text-anchor="middle" fill="#222" class="s" transform="rotate(-90 502 425.9)">0.0</text>
<line x1="504.9" y1="397" x2="506.9" y2="397" stroke="#888" stroke-width="0.7"/>
<text x="502" y="397" font-size="8.2" text-anchor="middle" fill="#222" class="s" transform="rotate(-90 502 397)">0.2</text>
<line x1="504.9" y1="367.9" x2="506.9" y2="367.9" stroke="#888" stroke-width="0.7"/>
<text x="502" y="367.9" font-size="8.2" text-anchor="middle" fill="#222" class="s" transform="rotate(-90 502 367.9)">0.4</text>
<line x1="504.9" y1="338.7" x2="506.9" y2="338.7" stroke="#888" stroke-width="0.7"/>
<text x="502" y="338.7" font-size="8.2" text-anchor="middle" fill="#222" class="s" transform="rotate(-90 502 338.7)">0.6</text>
<line x1="504.9" y1="309.5" x2="506.9" y2="309.5" stroke="#888" stroke-width="0.7"/>
<text x="502" y="309.5" font-size="8.2" text-anchor="middle" fill="#222" class="s" transform="rotate(-90 502 309.5)">0.8</text>
<line x1="504.9" y1="280.4" x2="506.9" y2="280.4" stroke="#888" stroke-width="0.7"/>
<text x="502" y="280.4" font-size="8.2" text-anchor="middle" fill="#222" class="s" transform="rotate(-90 502 280.4)">1.0</text>
<line x1="514.5" y1="431.5" x2="514.5" y2="433" stroke="#aaa" stroke-width="0.6"/>
<text x="514.5" y="439.4" font-size="8.2" text-anchor="middle" fill="#222" class="s" textLength="10.6" lengthAdjust="spacingAndGlyphs">0.0</text>
<line x1="551.1" y1="431.5" x2="551.1" y2="433" stroke="#aaa" stroke-width="0.6"/>
<text x="551.1" y="439.4" font-size="8.2" text-anchor="middle" fill="#222" class="s" textLength="10.6" lengthAdjust="spacingAndGlyphs">0.2</text>
<line x1="587.8" y1="431.5" x2="587.8" y2="433" stroke="#aaa" stroke-width="0.6"/>
<text x="587.8" y="439.4" font-size="8.2" text-anchor="middle" fill="#222" class="s" textLength="10.6" lengthAdjust="spacingAndGlyphs">0.4</text>
<line x1="625.4" y1="431.5" x2="625.4" y2="433" stroke="#aaa" stroke-width="0.6"/>
<text x="625.4" y="439.4" font-size="8.2" text-anchor="middle" fill="#222" class="s" textLength="10.6" lengthAdjust="spacingAndGlyphs">0.6</text>
<line x1="662.1" y1="431.5" x2="662.1" y2="433" stroke="#aaa" stroke-width="0.6"/>
<text x="662.1" y="439.4" font-size="8.2" text-anchor="middle" fill="#222" class="s" textLength="10.6" lengthAdjust="spacingAndGlyphs">0.8</text>
<line x1="698.8" y1="431.5" x2="698.8" y2="433" stroke="#aaa" stroke-width="0.6"/>
<text x="698.8" y="439.4" font-size="8.2" text-anchor="middle" fill="#222" class="s" textLength="10.6" lengthAdjust="spacingAndGlyphs">1.0</text>
<text x="524.8" y="450.1" font-size="8.5" text-anchor="start" fill="#222" class="s" textLength="165.5" lengthAdjust="spacingAndGlyphs">Nomogram-Predicted Probability of 5-year PFS</text>
<text x="492.2" y="352.2" font-size="8.3" text-anchor="middle" fill="#222" class="s" textLength="62.4" lengthAdjust="spacingAndGlyphs" transform="rotate(-90 492.2 352.2)">Actual 5-year PFS</text>
<line x1="513.8" y1="274.7" x2="513.8" y2="278.1" stroke="#8a8a8a" stroke-width="0.5"/>
<line x1="514.9" y1="274.7" x2="514.9" y2="278.1" stroke="#8a8a8a" stroke-width="0.5"/>
<line x1="516" y1="274.7" x2="516" y2="278.1" stroke="#8a8a8a" stroke-width="0.5"/>
<line x1="520.1" y1="274.7" x2="520.1" y2="278.1" stroke="#8a8a8a" stroke-width="0.5"/>
<line x1="541.4" y1="274.7" x2="541.4" y2="278.1" stroke="#8a8a8a" stroke-width="0.5"/>
<line x1="556.6" y1="274.7" x2="556.6" y2="278.1" stroke="#8a8a8a" stroke-width="0.5"/>
<line x1="566.4" y1="274.7" x2="566.4" y2="278.1" stroke="#8a8a8a" stroke-width="0.5"/>
<line x1="582.7" y1="274.7" x2="582.7" y2="278.1" stroke="#8a8a8a" stroke-width="0.5"/>
<line x1="583.8" y1="274.7" x2="583.8" y2="278.1" stroke="#8a8a8a" stroke-width="0.5"/>
<line x1="591.4" y1="274.7" x2="591.4" y2="278.1" stroke="#8a8a8a" stroke-width="0.5"/>
<line x1="601.8" y1="274.7" x2="601.8" y2="278.1" stroke="#8a8a8a" stroke-width="0.5"/>
<line x1="605.3" y1="274.7" x2="605.3" y2="278.1" stroke="#8a8a8a" stroke-width="0.5"/>
<line x1="608.4" y1="274.7" x2="608.4" y2="278.1" stroke="#8a8a8a" stroke-width="0.5"/>
<line x1="611.4" y1="274.7" x2="611.4" y2="278.1" stroke="#8a8a8a" stroke-width="0.5"/>
<line x1="618.3" y1="274.7" x2="618.3" y2="278.1" stroke="#8a8a8a" stroke-width="0.5"/>
<line x1="625.2" y1="274.7" x2="625.2" y2="278.1" stroke="#8a8a8a" stroke-width="0.5"/>
<line x1="627.1" y1="274.7" x2="627.1" y2="278.1" stroke="#8a8a8a" stroke-width="0.5"/>
<line x1="631.3" y1="274.7" x2="631.3" y2="278.1" stroke="#8a8a8a" stroke-width="0.5"/>
<line x1="640.4" y1="274.7" x2="640.4" y2="278.1" stroke="#8a8a8a" stroke-width="0.5"/>
<line x1="642.4" y1="274.7" x2="642.4" y2="278.1" stroke="#8a8a8a" stroke-width="0.5"/>
<line x1="644.2" y1="274.7" x2="644.2" y2="278.1" stroke="#8a8a8a" stroke-width="0.5"/>
<line x1="646.5" y1="274.7" x2="646.5" y2="278.1" stroke="#8a8a8a" stroke-width="0.5"/>
<line x1="648.5" y1="274.7" x2="648.5" y2="278.1" stroke="#8a8a8a" stroke-width="0.5"/>
<line x1="651.1" y1="274.7" x2="651.1" y2="278.1" stroke="#8a8a8a" stroke-width="0.5"/>
<line x1="653.4" y1="274.7" x2="653.4" y2="278.1" stroke="#8a8a8a" stroke-width="0.5"/>
<line x1="655.6" y1="274.7" x2="655.6" y2="278.1" stroke="#8a8a8a" stroke-width="0.5"/>
<line x1="658.7" y1="274.7" x2="658.7" y2="278.1" stroke="#8a8a8a" stroke-width="0.5"/>
<line x1="666.3" y1="274.7" x2="666.3" y2="278.1" stroke="#8a8a8a" stroke-width="0.5"/>
<line x1="668.3" y1="274.7" x2="668.3" y2="278.1" stroke="#8a8a8a" stroke-width="0.5"/>
<line x1="613.4" y1="321.9" x2="613.4" y2="388.1" stroke="#6a6a6a" stroke-width="0.95"/>
<line x1="611.7" y1="321.9" x2="615.1" y2="321.9" stroke="#6a6a6a" stroke-width="0.9"/>
<line x1="611.7" y1="388.1" x2="615.1" y2="388.1" stroke="#6a6a6a" stroke-width="0.9"/>
<line x1="653.3" y1="284" x2="653.3" y2="325" stroke="#6a6a6a" stroke-width="0.95"/>
<line x1="651.6" y1="284" x2="655" y2="284" stroke="#6a6a6a" stroke-width="0.9"/>
<line x1="651.6" y1="325" x2="655" y2="325" stroke="#6a6a6a" stroke-width="0.9"/>
<polyline points="613.4,363.1 653.3,306.4" fill="none" stroke="#f47a7a" stroke-width="0.75"/>
<rect x="612.7" y="362.9" width="1.4" height="1.4" fill="#6070b0"/>
<rect x="612.65" y="362.35" width="1.5" height="1.5" fill="#b01818"/>
<rect x="652.6" y="309.2" width="1.4" height="1.4" fill="#6070b0"/>
<rect x="652.55" y="305.65" width="1.5" height="1.5" fill="#b01818"/>
</g>
</svg>
</body></html>
